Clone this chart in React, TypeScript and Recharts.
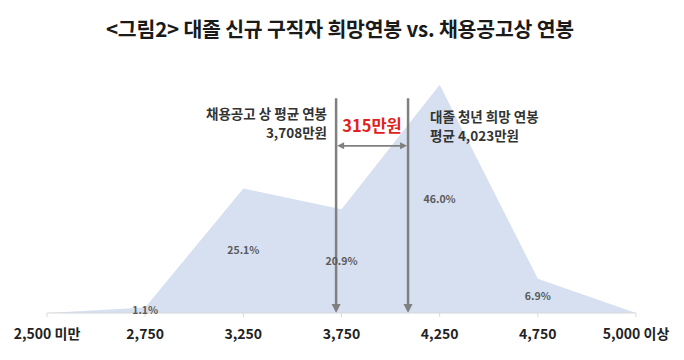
import { AreaChart, Area, XAxis, YAxis, ReferenceLine, LabelList } from "recharts";

const categories = ["2,500 미만", "2,750", "3,250", "3,750", "4,250", "4,750", "5,000 이상"];
const shares = [0, 1.1, 25.1, 20.9, 46.0, 6.9, 0];

// where the two average lines sit on the category scale
const postingPos = 2.945;
const hopePos = 3.678;
const lineTop = 43.3;
const gapArrowY = 33.7;

const data = categories.map((name, i) => ({ idx: i, name, share: shares[i] }));

const FONT = "'Noto Sans CJK KR', 'Noto Sans', sans-serif";
const BASELINE = 313;
const GRAY = "#808080";

const DownArrow = (props: any) => {
  const { x1, y1, x2, y2 } = props;
  return (
    <g>
      <line x1={x1} y1={y1} x2={x2} y2={y2 - 6} stroke={GRAY} strokeWidth={2.5} />
      <polygon points={`${x2 - 4.5},${y2 - 9} ${x2 + 4.5},${y2 - 9} ${x2},${y2}`} fill={GRAY} />
    </g>
  );
};

const DoubleArrow = (props: any) => {
  const { x1, y1, x2, y2 } = props;
  return (
    <g>
      <line x1={x1 + 6} y1={y1} x2={x2 - 6} y2={y2} stroke={GRAY} strokeWidth={1.6} />
      <polygon points={`${x1 + 1},${y1} ${x1 + 8},${y1 - 3.5} ${x1 + 8},${y1 + 3.5}`} fill={GRAY} />
      <polygon points={`${x2 - 1},${y2} ${x2 - 8},${y2 - 3.5} ${x2 - 8},${y2 + 3.5}`} fill={GRAY} />
    </g>
  );
};

const ShareLabel = (props: any) => {
  const { x, y, value } = props;
  if (!value) return null;
  const cy = y + (BASELINE - y) / 2;
  return (
    <text x={x} y={cy} dy="0.35em" textAnchor="middle" fontSize={10.5} fontWeight={700} fill="#5a5a5a" fontFamily={FONT}>
      {value.toFixed(1)}%
    </text>
  );
};

export default function App() {
  return (
    <div style={{ position: "absolute", left: 0, top: 0, width: 684, height: 360, background: "#fff", fontFamily: FONT }}>
      <div style={{ position: "absolute", left: 0, top: 0, width: 680, height: 56, lineHeight: "56px", textAlign: "center", fontSize: 20.5, fontWeight: 700, color: "#1a1a1a", letterSpacing: -0.2 }}>
        &lt;그림2&gt; 대졸 신규 구직자 희망연봉 vs. 채용공고상 연봉
      </div>
      <AreaChart width={684} height={360} data={data} margin={{ top: 65, right: 48, bottom: 17, left: 47 }}>
        <XAxis
          dataKey="idx"
          type="number"
          domain={[0, 6]}
          ticks={[0, 1, 2, 3, 4, 5, 6]}
          interval={0}
          tickFormatter={(i: number) => categories[i]}
          axisLine={{ stroke: "#d9d9d9" }}
          tickLine={{ stroke: "#d9d9d9" }}
          tickSize={4}
          tickMargin={12}
          tick={{ fontSize: 14, fontWeight: 700, fill: "#222", fontFamily: FONT }}
          height={30}
        />
        <YAxis hide domain={[0, 50]} />
        <Area type="linear" dataKey="share" stroke="none" fill="#d6e0f0" fillOpacity={1} isAnimationActive={false}>
          <LabelList dataKey="share" content={ShareLabel} />
        </Area>
        <ReferenceLine segment={[{ x: postingPos, y: lineTop }, { x: postingPos, y: 0 }]} shape={DownArrow} />
        <ReferenceLine segment={[{ x: hopePos, y: lineTop }, { x: hopePos, y: 0 }]} shape={DownArrow} />
        <ReferenceLine segment={[{ x: postingPos, y: gapArrowY }, { x: hopePos, y: gapArrowY }]} shape={DoubleArrow} />
      </AreaChart>
      <div style={{ position: "absolute", right: 684 - 327, top: 103.5, lineHeight: "19px", textAlign: "right", fontSize: 13.5, fontWeight: 700, color: "#333", whiteSpace: "nowrap" }}>
        채용공고 상 평균 연봉
        <br />
        3,708만원
      </div>
      <div style={{ position: "absolute", left: 340, top: 115, width: 64, lineHeight: "20px", textAlign: "center", fontSize: 16.5, fontWeight: 700, color: "#e3211c", whiteSpace: "nowrap" }}>
        315만원
      </div>
      <div style={{ position: "absolute", left: 430, top: 107, lineHeight: "19px", textAlign: "left", fontSize: 13.5, fontWeight: 700, color: "#333", whiteSpace: "nowrap" }}>
        대졸 청년 희망 연봉
        <br />
        평균 4,023만원
      </div>
    </div>
  );
}
